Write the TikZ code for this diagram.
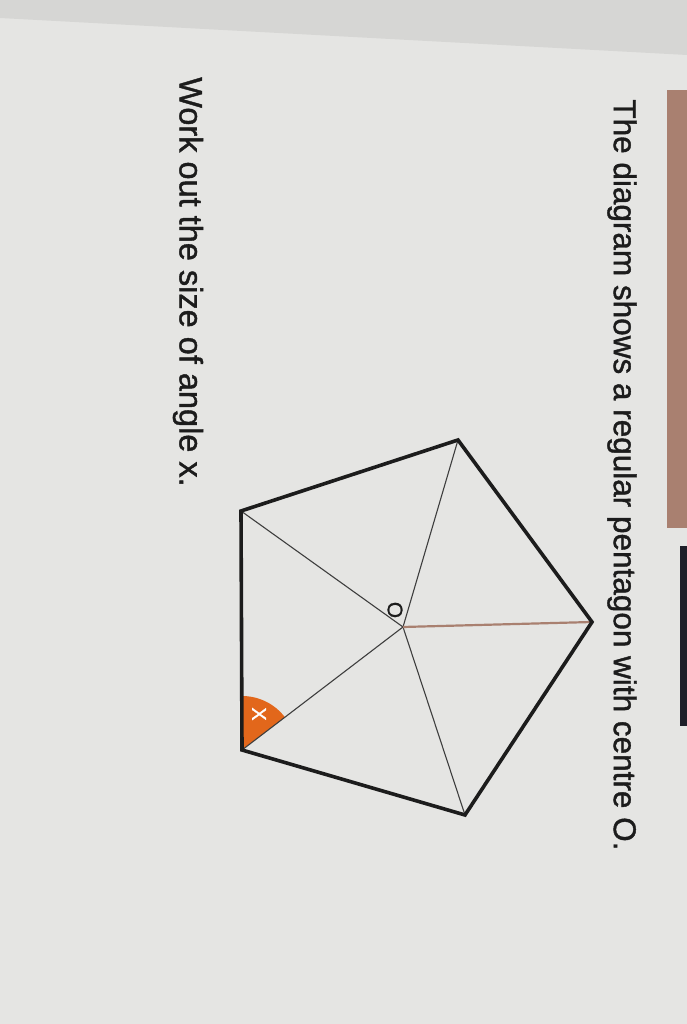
\documentclass[tikz,border=0pt]{standalone}
\usepackage{fontspec}
\setmainfont{Liberation Sans}
\newfontfamily\heavysans[FakeBold=1.2]{Liberation Sans}
\usetikzlibrary{calc}
\definecolor{bg}{HTML}{E5E5E3}
\definecolor{bgtop}{HTML}{D6D6D4}
\definecolor{ink}{HTML}{1C1C1C}
\definecolor{tan}{HTML}{A98070}
\definecolor{darkbar}{HTML}{1E1E28}
\definecolor{angleorange}{HTML}{E2671B}
\tikzset{
  edge/.style={draw=ink, line width=3.6pt, line join=miter},
  spoke/.style={draw=ink!85, line width=1.1pt},
  tanspoke/.style={draw=tan, line width=2.2pt},
  question/.style={text=ink, rotate=-90, inner sep=0pt},
}
\begin{document}
\begin{tikzpicture}[x=1pt,y=1pt]
\useasboundingbox (0,0) rectangle (687,1024);
% background (screen photo)
\fill[bg] (0,0) rectangle (687,1024);
\fill[bgtop] (0,1024) -- (687,1024) -- (687,969) -- (0,1006) -- cycle;
\fill[tan] (667,934) rectangle (687,496);
\fill[darkbar] (680,478) rectangle (687,298);
% pentagon vertices
\coordinate (A) at (458,584);
\coordinate (B) at (592,402);
\coordinate (C) at (465,209);
\coordinate (D) at (242,274);
\coordinate (E) at (241,513);
\coordinate (O) at (403,397);
% angle x
\fill[angleorange] (D) -- ++(37.4:54) arc[start angle=37.4, end angle=90, radius=54] -- cycle;
\node[text=white, font=\heavysans\fontsize{20}{20}\selectfont, rotate=-90] (xlab) at (259,310) {X};
% spokes
\draw[spoke] (O) -- (A);
\draw[spoke] (O) -- (C);
\draw[spoke] (O) -- (D);
\draw[spoke] (O) -- (E);
\draw[tanspoke] (O) -- (B);
% pentagon
\draw[edge] (A) -- (B) -- (C) -- (D) -- (E) -- cycle;
% centre label
\node[text=ink, rotate=-90, inner sep=0pt, font=\heavysans\fontsize{21}{21}\selectfont] (olab) at (395,414) {O};
% texts
\node[question, font=\heavysans\fontsize{31.5}{34}\selectfont] (t1) at (622,549) {The diagram shows a regular pentagon with centre O.};
\node[question, font=\heavysans\fontsize{32.5}{35}\selectfont] (t2) at (188,742) {Work out the size of angle x.};
\end{tikzpicture}
\end{document}
